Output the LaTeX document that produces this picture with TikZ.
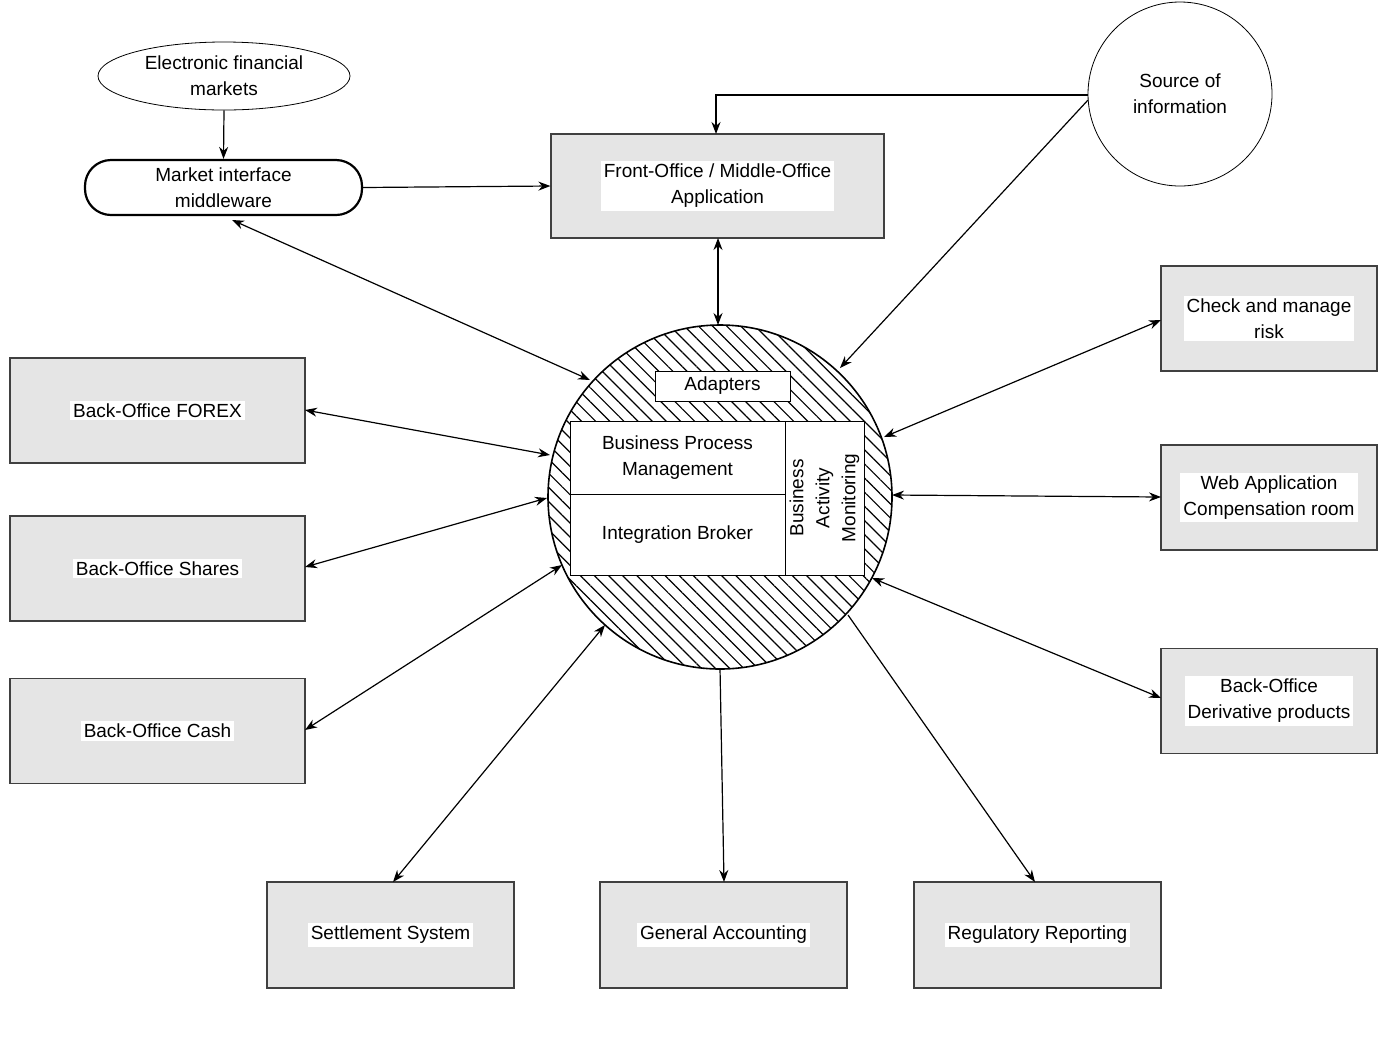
\documentclass[tikz,border=0pt]{standalone}
\usepackage{fontspec}
\setmainfont{Liberation Sans}
\usetikzlibrary{arrows.meta,patterns.meta,shapes.geometric}
\begin{document}
\begin{tikzpicture}[x=0.5pt,y=-0.5pt,
  font=\fontsize{9.5}{13}\selectfont,
  box/.style={draw=black!75,fill=black!10,line width=0.6pt},
  lbl/.style={fill=white,inner sep=1.5pt,align=center},
  arr/.style={-{Stealth[length=6pt,width=4.5pt]},line width=0.6pt},
  darr/.style={{Stealth[length=6pt,width=4.5pt]}-{Stealth[length=6pt,width=4.5pt]},line width=0.6pt}]
\useasboundingbox (0,0) rectangle (1391,1056);
% top left
\node[ellipse,draw,minimum width=126pt,minimum height=34pt,align=center,inner sep=0] (efm) at (224,76) {Electronic financial\\markets};
\node[draw,line width=1.1pt,rounded corners=13pt,minimum width=138.5pt,minimum height=27.5pt,align=center,inner sep=0] (miw) at (223.5,187.5) {Market interface\\middleware};
% front office
\node[box,minimum width=166.5pt,minimum height=52pt] (fo) at (717.5,186) {};
\node[lbl] at (fo) {Front-Office / Middle-Office\\Application};
% source
\node[circle,draw,minimum size=92pt,align=center] (src) at (1180,94) {Source of\\information};
% central circle
\node[circle,draw,line width=0.8pt,minimum size=172pt,pattern={Lines[angle=-45,distance=5pt,line width=0.6pt]}] (hub) at (720,497) {};
\node[draw,fill=white,minimum width=67.5pt,minimum height=15pt,inner sep=0] (adp) at (722.5,386) {Adapters};
\node[draw,fill=white,minimum width=107.5pt,minimum height=36.5pt,align=center,inner sep=0] (bpm) at (677.5,457.5) {Business Process\\Management};
\node[draw,fill=white,minimum width=107.5pt,minimum height=40.5pt,inner sep=0] (ib) at (677.5,534.5) {Integration Broker};
\node[draw,fill=white,minimum width=39.5pt,minimum height=77pt,inner sep=0] (bam) at (824.5,498) {};
\node[rotate=90,align=center] at (bam) {Business\\Activity\\Monitoring};
% left boxes
\foreach \n/\y/\t in {fx/410.5/Back-Office FOREX, sh/568.5/Back-Office Shares, ca/731/Back-Office Cash}{
  \node[box,minimum width=147.5pt,minimum height=52.5pt] (\n) at (157.5,\y) {};
  \node[lbl] at (\n) {\t};}
% right boxes
\node[box,minimum width=108pt,minimum height=52.5pt] (rk) at (1269,318.5) {};
\node[lbl] at (rk) {Check and manage\\risk};
\node[box,minimum width=108pt,minimum height=52.5pt] (wa) at (1269,497.5) {};
\node[lbl] at (wa) {Web Application\\Compensation room};
\node[box,minimum width=108pt,minimum height=52.5pt] (dp) at (1269,701) {};
\node[lbl] at (dp) {Back-Office\\Derivative products};
% bottom boxes
\node[box,minimum width=123.5pt,minimum height=53pt] (st) at (390.5,935) {};
\node[lbl] at (st) {Settlement System};
\node[box,minimum width=123.5pt,minimum height=53pt] (ga) at (723.5,935) {};
\node[lbl] at (ga) {General Accounting};
\node[box,minimum width=123.5pt,minimum height=53pt] (rr) at (1037.5,935) {};
\node[lbl] at (rr) {Regulatory Reporting};
% coordinates on hub
\coordinate (h1) at (590,380);
\coordinate (h2) at (840,368);
\coordinate (h3) at (550,455);
\coordinate (h4) at (547,498);
\coordinate (h5) at (562,565);
\coordinate (h6) at (605,625);
\coordinate (h7) at (848,615);
\coordinate (h8) at (884,437);
\coordinate (h9) at (892,495);
\coordinate (h10) at (872,578);
\coordinate (s1) at (1088,95);
\coordinate (s2) at (1088,100);
% arrows
\draw[arr] (efm.south) -- (miw.north);
\draw[arr] (miw.east) -- (fo.west);
\draw[arr] (s1) -- (716,95) -- (716,134);
\draw[darr] (718,238) -- (718,325);
\draw[darr] (232,220) -- (h1);
\draw[arr] (s2) -- (h2);
\draw[darr] (305,410) -- (h3);
\draw[darr] (305,567) -- (h4);
\draw[darr] (305,730) -- (h5);
\draw[darr] (393,882) -- (h6);
\draw[arr] (720,668) -- (724,882);
\draw[arr] (h7) -- (1035,882);
\draw[darr] (1161,320) -- (h8);
\draw[darr] (1161,497) -- (h9);
\draw[darr] (1161,698) -- (h10);
\end{tikzpicture}
\end{document}
